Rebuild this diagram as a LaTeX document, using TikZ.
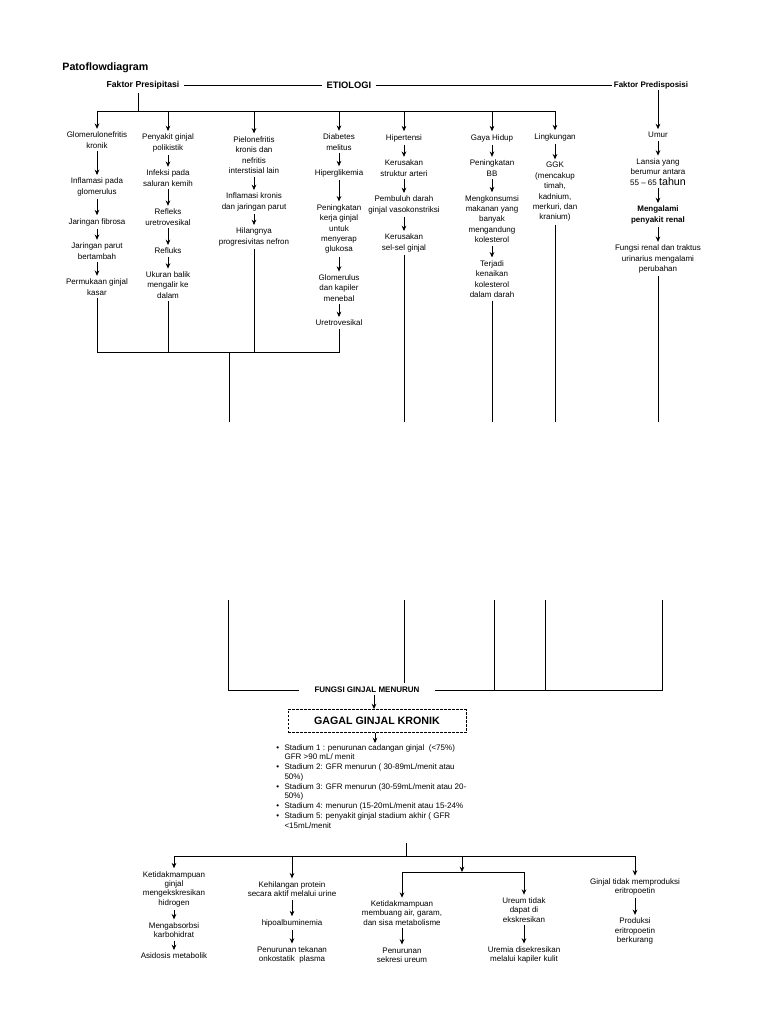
\documentclass[tikz,border=0pt]{standalone}
\usepackage{fontspec}
\setmainfont{Liberation Sans}
\usetikzlibrary{arrows.meta}

\tikzset{
  box/.style={align=center,inner sep=2pt,font=\fontsize{6}{7.8}\selectfont},
  head/.style={inner sep=3pt,font=\fontsize{6.5}{8}\selectfont\bfseries},
  arr/.style={-{Stealth[length=4pt,width=3.5pt]}},
}

\begin{document}
\begin{tikzpicture}[x=0.75pt,y=-0.75pt,line width=0.6pt]
    \useasboundingbox (0,0) rectangle (768,1024);
    \node[anchor=west,inner sep=0pt,font=\fontsize{8}{9}\selectfont\bfseries] (title) at (62,68) {Patoflowdiagram};
    \node[head] (fp) at (143,85) {Faktor Presipitasi};
    \node[head,font=\fontsize{7}{8}\selectfont\bfseries] (eti) at (349,85) {ETIOLOGI};
    \node[head,font=\fontsize{6}{7}\selectfont\bfseries,inner sep=1pt] (fd) at (651,85) {Faktor Predisposisi};
    \draw (fp) -- (eti);
    \draw (eti) -- (fd);

    % etiologi columns
    \node[box] (g1) at (97,140) {Glomerulonefritis\\kronik};
    \node[box] (g2) at (97,187) {Inflamasi pada\\glomerulus};
    \node[box] (g3) at (97,222) {Jaringan fibrosa};
    \node[box] (g4) at (97,251) {Jaringan parut\\bertambah};
    \node[box] (g5) at (97,287) {Permukaan ginjal\\kasar};
    \node[box] (p1) at (168,143) {Penyakit ginjal\\polikistik};
    \node[box] (p2) at (168,178) {Infeksi pada\\saluran kemih};
    \node[box] (p3) at (168,217) {Refleks\\uretrovesikal};
    \node[box] (p4) at (168,251) {Refluks};
    \node[box] (p5) at (168,285) {Ukuran balik\\mengalir ke\\dalam};
    \node[box] (n1) at (254,155) {Pielonefritis\\kronis dan\\nefritis\\interstisial lain};
    \node[box] (n2) at (254,202) {Inflamasi kronis\\dan jaringan parut};
    \node[box] (n3) at (254,237) {Hilangnya\\progresivitas nefron};
    \node[box] (d1) at (339,142) {Diabetes\\melitus};
    \node[box] (d2) at (339,173) {Hiperglikemia};
    \node[box] (d3) at (339,229) {Peningkatan\\kerja ginjal\\untuk\\menyerap\\glukosa};
    \node[box] (d4) at (339,288) {Glomerulus\\dan kapiler\\menebal};
    \node[box] (d5) at (339,323) {Uretrovesikal};
    \node[box] (h1) at (404,138) {Hipertensi};
    \node[box] (h2) at (404,168) {Kerusakan\\struktur arteri};
    \node[box] (h3) at (404,205) {Pembuluh darah\\ginjal vasokonstriksi};
    \node[box] (h4) at (404,243) {Kerusakan\\sel-sel ginjal};
    \node[box] (y1) at (492,138) {Gaya Hidup};
    \node[box] (y2) at (492,168) {Peningkatan\\BB};
    \node[box] (y3) at (492,219) {Mengkonsumsi\\makanan yang\\banyak\\mengandung\\kolesterol};
    \node[box] (y4) at (492,279) {Terjadi\\kenaikan\\kolesterol\\dalam darah};
    \node[box] (l1) at (555,137) {Lingkungan};
    \node[box] (l2) at (555,192) {GGK\\(mencakup\\timah,\\kadnium,\\merkuri, dan\\kranium)};
    \node[box] (r1) at (658,135) {Umur};
    \node[box] (r2) at (658,172) {Lansia yang\\berumur antara\\55 -- 65 {\fontsize{8}{9}\selectfont tahun}};
    \node[box] (r3) at (658,215) {\textbf{Mengalami}\\\textbf{penyakit renal}};
    \node[box] (r4) at (658,259) {Fungsi renal dan traktus\\urinarius mengalami\\perubahan};
    \foreach \a/\b in {g1/g2,g2/g3,g3/g4,g4/g5,p1/p2,p2/p3,p3/p4,p4/p5,n1/n2,n2/n3,
        d1/d2,d2/d3,d3/d4,d4/d5,h1/h2,h2/h3,h3/h4,y1/y2,y2/y3,y3/y4,l1/l2,r1/r2,r2/r3,r3/r4}
        \draw[arr] (\a) -- (\b);

    % bus from faktor presipitasi
    \coordinate (tb) at (97,111);
    \coordinate (te) at (555,111);
    \coordinate (fb) at (138,111);
    \draw (fb |- fp.south) -- (fb);
    \draw (tb) -- (te);
    \foreach \c in {g1,p1,n1,d1,h1,y1,l1}
        \draw[arr] (\c |- tb) -- (\c);
    \draw[arr] (r1 |- fd.south) -- (r1);

    % joining the left columns
    \coordinate (jl) at (97,352);
    \coordinate (jd) at (229,352);
    \coordinate (cut) at (0,422);
    \draw (g5) -- (g5 |- jl) -- (d5 |- jl) -- (d5);
    \draw (p5) -- (p5 |- jl);
    \draw (n3) -- (n3 |- jl);
    \draw (jd) -- (jd |- cut);
    \foreach \c in {h4,y4,l2,r4}
        \draw (\c) -- (\c |- cut);

    % lower part
    \node[head,font=\fontsize{6}{7}\selectfont\bfseries,inner xsep=11pt] (fg) at (367,690) {FUNGSI GINJAL MENURUN};
    \coordinate (m1) at (228,600);
    \coordinate (m5) at (404,600);
    \coordinate (m6) at (494,600);
    \coordinate (m7) at (545,600);
    \coordinate (m8) at (662,600);
    \draw (m1) |- (fg.west);
    \draw (m8) |- (fg.east);
    \draw (m6) -- (m6 |- fg.east);
    \draw (m7) -- (m7 |- fg.east);
    \draw (m5) -- (m5 |- fg.north);

    \node[draw,dash pattern=on 2pt off 1pt,minimum width=133.5pt,minimum height=17.25pt,
        font=\fontsize{8}{9}\selectfont\bfseries] (ggk) at (377,721) {GAGAL GINJAL KRONIK};
    \coordinate (fa) at (374,695);
    \draw[arr] (fa) -- (fa |- ggk.north);

    \node[anchor=north west,inner sep=0pt,font=\fontsize{6}{7.3}\selectfont] (st) at (276,743) {%
    \begin{tabular}{@{}l@{\hspace{4pt}}l@{}}
    \textbullet & Stadium 1 : penurunan cadangan ginjal \ (<75\%)\\
     & GFR >90 mL/ menit\\
    \textbullet & Stadium 2: GFR menurun ( 30-89mL/menit atau\\
     & 50\%)\\
    \textbullet & Stadium 3: GFR menurun (30-59mL/menit atau 20-\\
     & 50\%)\\
    \textbullet & Stadium 4: menurun (15-20mL/menit atau 15-24\%\\
    \textbullet & Stadium 5: penyakit ginjal stadium akhir ( GFR\\
     & <15mL/menit
    \end{tabular}};
    \coordinate (ga) at (375,733);
    \draw[arr] (ga) -- (ga |- st.north);

    % komplikasi
    \tikzset{box/.append style={font=\fontsize{6}{7}\selectfont}}
    \node[box] (ka) at (174,889) {Ketidakmampuan\\ginjal\\mengekskresikan\\hidrogen};
    \node[box] (kb) at (174,930) {Mengabsorbsi\\karbohidrat};
    \node[box] (kc) at (174,956) {Asidosis metabolik};
    \node[box] (pa) at (292,889) {Kehilangan protein\\secara aktif melalui urine};
    \node[box] (pb) at (292,923) {hipoalbuminemia};
    \node[box] (pc) at (292,955) {Penurunan tekanan\\onkostatik \ plasma};
    \node[box] (ca) at (402,913) {Ketidakmampuan\\membuang air, garam,\\dan sisa metabolisme};
    \node[box] (cb) at (402,955) {Penurunan\\sekresi ureum};
    \node[box] (ua) at (524,910) {Ureum tidak\\dapat di\\ekskresikan};
    \node[box] (ub) at (524,955) {Uremia disekresikan\\melalui kapiler kulit};
    \node[box] (ea) at (635,887) {Ginjal tidak memproduksi\\eritropoetin};
    \node[box] (eb) at (635,931) {Produksi\\eritropoetin\\berkurang};
    \foreach \a/\b in {ka/kb,kb/kc,pa/pb,pb/pc,ca/cb,ua/ub,ea/eb}
        \draw[arr] (\a) -- (\b);

    \coordinate (jt) at (406,843);
    \coordinate (jb) at (406,856);
    \coordinate (jc) at (462,872);
    \draw (jt) -- (jb);
    \draw (ka |- jb) -- (ea |- jb);
    \foreach \c in {ka,pa,ea}
        \draw[arr] (\c |- jb) -- (\c);
    \draw[arr] (jc |- jb) -- (jc);
    \draw (ca |- jc) -- (ua |- jc);
    \draw[arr] (ca |- jc) -- (ca);
    \draw[arr] (ua |- jc) -- (ua);
\end{tikzpicture}
\end{document}
